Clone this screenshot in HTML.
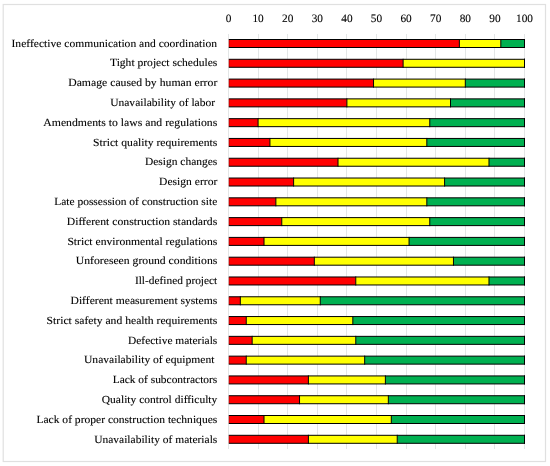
<!DOCTYPE html><html><head><meta charset="utf-8"><style>html,body{margin:0;padding:0;background:#fff;}svg{display:block;will-change:transform;}text{font-family:"Liberation Serif",serif;fill:#000;stroke:#000;stroke-width:0.1px;text-rendering:geometricPrecision;}</style></head><body>
<svg width="550" height="466" viewBox="0 0 550 466">
<rect x="0" y="0" width="550" height="466" fill="#fff"/>
<rect x="3.2" y="4.5" width="542.3" height="457" fill="none" stroke="#e0e0e0" stroke-width="1.2"/>
<line x1="228.50" y1="34" x2="228.50" y2="449" stroke="#e3e6e6" stroke-width="1"/>
<line x1="258.50" y1="34" x2="258.50" y2="449" stroke="#e3e6e6" stroke-width="1"/>
<line x1="287.50" y1="34" x2="287.50" y2="449" stroke="#e3e6e6" stroke-width="1"/>
<line x1="317.50" y1="34" x2="317.50" y2="449" stroke="#e3e6e6" stroke-width="1"/>
<line x1="346.50" y1="34" x2="346.50" y2="449" stroke="#e3e6e6" stroke-width="1"/>
<line x1="376.50" y1="34" x2="376.50" y2="449" stroke="#e3e6e6" stroke-width="1"/>
<line x1="406.50" y1="34" x2="406.50" y2="449" stroke="#e3e6e6" stroke-width="1"/>
<line x1="435.50" y1="34" x2="435.50" y2="449" stroke="#e3e6e6" stroke-width="1"/>
<line x1="465.50" y1="34" x2="465.50" y2="449" stroke="#e3e6e6" stroke-width="1"/>
<line x1="494.50" y1="34" x2="494.50" y2="449" stroke="#e3e6e6" stroke-width="1"/>
<line x1="524.50" y1="34" x2="524.50" y2="449" stroke="#e3e6e6" stroke-width="1"/>
<text x="228.50" y="21.8" font-size="11.3" text-anchor="middle">0</text>
<text x="258.10" y="21.8" font-size="11.3" text-anchor="middle">10</text>
<text x="287.70" y="21.8" font-size="11.3" text-anchor="middle">20</text>
<text x="317.30" y="21.8" font-size="11.3" text-anchor="middle">30</text>
<text x="346.90" y="21.8" font-size="11.3" text-anchor="middle">40</text>
<text x="376.50" y="21.8" font-size="11.3" text-anchor="middle">50</text>
<text x="406.10" y="21.8" font-size="11.3" text-anchor="middle">60</text>
<text x="435.70" y="21.8" font-size="11.3" text-anchor="middle">70</text>
<text x="465.30" y="21.8" font-size="11.3" text-anchor="middle">80</text>
<text x="494.90" y="21.8" font-size="11.3" text-anchor="middle">90</text>
<text x="524.50" y="21.8" font-size="11.3" text-anchor="middle">100</text>
<rect x="228.80" y="39.50" width="230.58" height="8.00" fill="#ff0000"/>
<rect x="459.38" y="39.50" width="41.44" height="8.00" fill="#ffff00"/>
<rect x="500.82" y="39.50" width="23.68" height="8.00" fill="#00b050"/>
<path d="M228.80 39.50H525.00M228.80 47.50H525.00M459.38 39.00V48.00M500.82 39.00V48.00M524.50 39.00V48.00" stroke="#000" stroke-width="1" fill="none"/>
<path d="M229.10 40.00V47.00" stroke="#000" stroke-opacity="0.4" stroke-width="0.6" fill="none"/>
<text x="11.50" y="46.70" font-size="11.0" textLength="205.60" lengthAdjust="spacingAndGlyphs">Ineffective communication and coordination</text>
<rect x="228.80" y="59.29" width="174.34" height="8.00" fill="#ff0000"/>
<rect x="403.14" y="59.29" width="121.36" height="8.00" fill="#ffff00"/>
<path d="M228.80 59.29H525.00M228.80 67.29H525.00M403.14 58.79V67.79M524.50 58.79V67.79M524.50 58.79V67.79" stroke="#000" stroke-width="1" fill="none"/>
<path d="M229.10 59.79V66.79" stroke="#000" stroke-opacity="0.4" stroke-width="0.6" fill="none"/>
<text x="110.00" y="66.49" font-size="11.0" textLength="107.30" lengthAdjust="spacingAndGlyphs">Tight project schedules</text>
<rect x="228.80" y="79.08" width="144.74" height="8.00" fill="#ff0000"/>
<rect x="373.54" y="79.08" width="91.76" height="8.00" fill="#ffff00"/>
<rect x="465.30" y="79.08" width="59.20" height="8.00" fill="#00b050"/>
<path d="M228.80 79.08H525.00M228.80 87.08H525.00M373.54 78.58V87.58M465.30 78.58V87.58M524.50 78.58V87.58" stroke="#000" stroke-width="1" fill="none"/>
<path d="M229.10 79.58V86.58" stroke="#000" stroke-opacity="0.4" stroke-width="0.6" fill="none"/>
<text x="68.20" y="86.28" font-size="11.0" textLength="149.10" lengthAdjust="spacingAndGlyphs">Damage caused by human error</text>
<rect x="228.80" y="98.87" width="118.10" height="8.00" fill="#ff0000"/>
<rect x="346.90" y="98.87" width="103.60" height="8.00" fill="#ffff00"/>
<rect x="450.50" y="98.87" width="74.00" height="8.00" fill="#00b050"/>
<path d="M228.80 98.87H525.00M228.80 106.87H525.00M346.90 98.37V107.37M450.50 98.37V107.37M524.50 98.37V107.37" stroke="#000" stroke-width="1" fill="none"/>
<path d="M229.10 99.37V106.37" stroke="#000" stroke-opacity="0.4" stroke-width="0.6" fill="none"/>
<text x="110.20" y="106.07" font-size="11.0" textLength="104.90" lengthAdjust="spacingAndGlyphs">Unavailability of labor</text>
<rect x="228.80" y="118.66" width="29.30" height="8.00" fill="#ff0000"/>
<rect x="258.10" y="118.66" width="171.68" height="8.00" fill="#ffff00"/>
<rect x="429.78" y="118.66" width="94.72" height="8.00" fill="#00b050"/>
<path d="M228.80 118.66H525.00M228.80 126.66H525.00M258.10 118.16V127.16M429.78 118.16V127.16M524.50 118.16V127.16" stroke="#000" stroke-width="1" fill="none"/>
<path d="M229.10 119.16V126.16" stroke="#000" stroke-opacity="0.4" stroke-width="0.6" fill="none"/>
<text x="43.30" y="125.86" font-size="11.0" textLength="174.00" lengthAdjust="spacingAndGlyphs">Amendments to laws and regulations</text>
<rect x="228.80" y="138.45" width="41.14" height="8.00" fill="#ff0000"/>
<rect x="269.94" y="138.45" width="156.88" height="8.00" fill="#ffff00"/>
<rect x="426.82" y="138.45" width="97.68" height="8.00" fill="#00b050"/>
<path d="M228.80 138.45H525.00M228.80 146.45H525.00M269.94 137.95V146.95M426.82 137.95V146.95M524.50 137.95V146.95" stroke="#000" stroke-width="1" fill="none"/>
<path d="M229.10 138.95V145.95" stroke="#000" stroke-opacity="0.4" stroke-width="0.6" fill="none"/>
<text x="93.10" y="145.65" font-size="11.0" textLength="124.20" lengthAdjust="spacingAndGlyphs">Strict quality requirements</text>
<rect x="228.80" y="158.24" width="109.22" height="8.00" fill="#ff0000"/>
<rect x="338.02" y="158.24" width="150.96" height="8.00" fill="#ffff00"/>
<rect x="488.98" y="158.24" width="35.52" height="8.00" fill="#00b050"/>
<path d="M228.80 158.24H525.00M228.80 166.24H525.00M338.02 157.74V166.74M488.98 157.74V166.74M524.50 157.74V166.74" stroke="#000" stroke-width="1" fill="none"/>
<path d="M229.10 158.74V165.74" stroke="#000" stroke-opacity="0.4" stroke-width="0.6" fill="none"/>
<text x="144.90" y="165.44" font-size="11.0" textLength="72.40" lengthAdjust="spacingAndGlyphs">Design changes</text>
<rect x="228.80" y="178.03" width="64.82" height="8.00" fill="#ff0000"/>
<rect x="293.62" y="178.03" width="150.96" height="8.00" fill="#ffff00"/>
<rect x="444.58" y="178.03" width="79.92" height="8.00" fill="#00b050"/>
<path d="M228.80 178.03H525.00M228.80 186.03H525.00M293.62 177.53V186.53M444.58 177.53V186.53M524.50 177.53V186.53" stroke="#000" stroke-width="1" fill="none"/>
<path d="M229.10 178.53V185.53" stroke="#000" stroke-opacity="0.4" stroke-width="0.6" fill="none"/>
<text x="159.10" y="185.23" font-size="11.0" textLength="58.20" lengthAdjust="spacingAndGlyphs">Design error</text>
<rect x="228.80" y="197.82" width="47.06" height="8.00" fill="#ff0000"/>
<rect x="275.86" y="197.82" width="150.96" height="8.00" fill="#ffff00"/>
<rect x="426.82" y="197.82" width="97.68" height="8.00" fill="#00b050"/>
<path d="M228.80 197.82H525.00M228.80 205.82H525.00M275.86 197.32V206.32M426.82 197.32V206.32M524.50 197.32V206.32" stroke="#000" stroke-width="1" fill="none"/>
<path d="M229.10 198.32V205.32" stroke="#000" stroke-opacity="0.4" stroke-width="0.6" fill="none"/>
<text x="54.20" y="205.02" font-size="11.0" textLength="163.10" lengthAdjust="spacingAndGlyphs">Late possession of construction site</text>
<rect x="228.80" y="217.61" width="52.98" height="8.00" fill="#ff0000"/>
<rect x="281.78" y="217.61" width="148.00" height="8.00" fill="#ffff00"/>
<rect x="429.78" y="217.61" width="94.72" height="8.00" fill="#00b050"/>
<path d="M228.80 217.61H525.00M228.80 225.61H525.00M281.78 217.11V226.11M429.78 217.11V226.11M524.50 217.11V226.11" stroke="#000" stroke-width="1" fill="none"/>
<path d="M229.10 218.11V225.11" stroke="#000" stroke-opacity="0.4" stroke-width="0.6" fill="none"/>
<text x="66.70" y="224.81" font-size="11.0" textLength="150.60" lengthAdjust="spacingAndGlyphs">Different construction standards</text>
<rect x="228.80" y="237.40" width="35.22" height="8.00" fill="#ff0000"/>
<rect x="264.02" y="237.40" width="145.04" height="8.00" fill="#ffff00"/>
<rect x="409.06" y="237.40" width="115.44" height="8.00" fill="#00b050"/>
<path d="M228.80 237.40H525.00M228.80 245.40H525.00M264.02 236.90V245.90M409.06 236.90V245.90M524.50 236.90V245.90" stroke="#000" stroke-width="1" fill="none"/>
<path d="M229.10 237.90V244.90" stroke="#000" stroke-opacity="0.4" stroke-width="0.6" fill="none"/>
<text x="67.40" y="244.60" font-size="11.0" textLength="149.90" lengthAdjust="spacingAndGlyphs">Strict environmental regulations</text>
<rect x="228.80" y="257.19" width="85.54" height="8.00" fill="#ff0000"/>
<rect x="314.34" y="257.19" width="139.12" height="8.00" fill="#ffff00"/>
<rect x="453.46" y="257.19" width="71.04" height="8.00" fill="#00b050"/>
<path d="M228.80 257.19H525.00M228.80 265.19H525.00M314.34 256.69V265.69M453.46 256.69V265.69M524.50 256.69V265.69" stroke="#000" stroke-width="1" fill="none"/>
<path d="M229.10 257.69V264.69" stroke="#000" stroke-opacity="0.4" stroke-width="0.6" fill="none"/>
<text x="75.80" y="264.39" font-size="11.0" textLength="141.50" lengthAdjust="spacingAndGlyphs">Unforeseen ground conditions</text>
<rect x="228.80" y="276.98" width="126.98" height="8.00" fill="#ff0000"/>
<rect x="355.78" y="276.98" width="133.20" height="8.00" fill="#ffff00"/>
<rect x="488.98" y="276.98" width="35.52" height="8.00" fill="#00b050"/>
<path d="M228.80 276.98H525.00M228.80 284.98H525.00M355.78 276.48V285.48M488.98 276.48V285.48M524.50 276.48V285.48" stroke="#000" stroke-width="1" fill="none"/>
<path d="M229.10 277.48V284.48" stroke="#000" stroke-opacity="0.4" stroke-width="0.6" fill="none"/>
<text x="134.90" y="284.18" font-size="11.0" textLength="82.40" lengthAdjust="spacingAndGlyphs">Ill-defined project</text>
<rect x="228.80" y="296.77" width="11.54" height="8.00" fill="#ff0000"/>
<rect x="240.34" y="296.77" width="79.92" height="8.00" fill="#ffff00"/>
<rect x="320.26" y="296.77" width="204.24" height="8.00" fill="#00b050"/>
<path d="M228.80 296.77H525.00M228.80 304.77H525.00M240.34 296.27V305.27M320.26 296.27V305.27M524.50 296.27V305.27" stroke="#000" stroke-width="1" fill="none"/>
<path d="M229.10 297.27V304.27" stroke="#000" stroke-opacity="0.4" stroke-width="0.6" fill="none"/>
<text x="70.50" y="303.97" font-size="11.0" textLength="146.80" lengthAdjust="spacingAndGlyphs">Different measurement systems</text>
<rect x="228.80" y="316.56" width="17.46" height="8.00" fill="#ff0000"/>
<rect x="246.26" y="316.56" width="106.56" height="8.00" fill="#ffff00"/>
<rect x="352.82" y="316.56" width="171.68" height="8.00" fill="#00b050"/>
<path d="M228.80 316.56H525.00M228.80 324.56H525.00M246.26 316.06V325.06M352.82 316.06V325.06M524.50 316.06V325.06" stroke="#000" stroke-width="1" fill="none"/>
<path d="M229.10 317.06V324.06" stroke="#000" stroke-opacity="0.4" stroke-width="0.6" fill="none"/>
<text x="46.60" y="323.76" font-size="11.0" textLength="170.70" lengthAdjust="spacingAndGlyphs">Strict safety and health requirements</text>
<rect x="228.80" y="336.35" width="23.38" height="8.00" fill="#ff0000"/>
<rect x="252.18" y="336.35" width="103.60" height="8.00" fill="#ffff00"/>
<rect x="355.78" y="336.35" width="168.72" height="8.00" fill="#00b050"/>
<path d="M228.80 336.35H525.00M228.80 344.35H525.00M252.18 335.85V344.85M355.78 335.85V344.85M524.50 335.85V344.85" stroke="#000" stroke-width="1" fill="none"/>
<path d="M229.10 336.85V343.85" stroke="#000" stroke-opacity="0.4" stroke-width="0.6" fill="none"/>
<text x="128.00" y="343.55" font-size="11.0" textLength="89.30" lengthAdjust="spacingAndGlyphs">Defective materials</text>
<rect x="228.80" y="356.14" width="17.46" height="8.00" fill="#ff0000"/>
<rect x="246.26" y="356.14" width="118.40" height="8.00" fill="#ffff00"/>
<rect x="364.66" y="356.14" width="159.84" height="8.00" fill="#00b050"/>
<path d="M228.80 356.14H525.00M228.80 364.14H525.00M246.26 355.64V364.64M364.66 355.64V364.64M524.50 355.64V364.64" stroke="#000" stroke-width="1" fill="none"/>
<path d="M229.10 356.64V363.64" stroke="#000" stroke-opacity="0.4" stroke-width="0.6" fill="none"/>
<text x="84.00" y="363.34" font-size="11.0" textLength="130.40" lengthAdjust="spacingAndGlyphs">Unavailability of equipment</text>
<rect x="228.80" y="375.93" width="79.62" height="8.00" fill="#ff0000"/>
<rect x="308.42" y="375.93" width="76.96" height="8.00" fill="#ffff00"/>
<rect x="385.38" y="375.93" width="139.12" height="8.00" fill="#00b050"/>
<path d="M228.80 375.93H525.00M228.80 383.93H525.00M308.42 375.43V384.43M385.38 375.43V384.43M524.50 375.43V384.43" stroke="#000" stroke-width="1" fill="none"/>
<path d="M229.10 376.43V383.43" stroke="#000" stroke-opacity="0.4" stroke-width="0.6" fill="none"/>
<text x="112.70" y="383.13" font-size="11.0" textLength="104.60" lengthAdjust="spacingAndGlyphs">Lack of subcontractors</text>
<rect x="228.80" y="395.72" width="70.74" height="8.00" fill="#ff0000"/>
<rect x="299.54" y="395.72" width="88.80" height="8.00" fill="#ffff00"/>
<rect x="388.34" y="395.72" width="136.16" height="8.00" fill="#00b050"/>
<path d="M228.80 395.72H525.00M228.80 403.72H525.00M299.54 395.22V404.22M388.34 395.22V404.22M524.50 395.22V404.22" stroke="#000" stroke-width="1" fill="none"/>
<path d="M229.10 396.22V403.22" stroke="#000" stroke-opacity="0.4" stroke-width="0.6" fill="none"/>
<text x="101.80" y="402.92" font-size="11.0" textLength="115.50" lengthAdjust="spacingAndGlyphs">Quality control difficulty</text>
<rect x="228.80" y="415.51" width="35.22" height="8.00" fill="#ff0000"/>
<rect x="264.02" y="415.51" width="127.28" height="8.00" fill="#ffff00"/>
<rect x="391.30" y="415.51" width="133.20" height="8.00" fill="#00b050"/>
<path d="M228.80 415.51H525.00M228.80 423.51H525.00M264.02 415.01V424.01M391.30 415.01V424.01M524.50 415.01V424.01" stroke="#000" stroke-width="1" fill="none"/>
<path d="M229.10 416.01V423.01" stroke="#000" stroke-opacity="0.4" stroke-width="0.6" fill="none"/>
<text x="36.40" y="422.71" font-size="11.0" textLength="180.90" lengthAdjust="spacingAndGlyphs">Lack of proper construction techniques</text>
<rect x="228.80" y="435.30" width="79.62" height="8.00" fill="#ff0000"/>
<rect x="308.42" y="435.30" width="88.80" height="8.00" fill="#ffff00"/>
<rect x="397.22" y="435.30" width="127.28" height="8.00" fill="#00b050"/>
<path d="M228.80 435.30H525.00M228.80 443.30H525.00M308.42 434.80V443.80M397.22 434.80V443.80M524.50 434.80V443.80" stroke="#000" stroke-width="1" fill="none"/>
<path d="M229.10 435.80V442.80" stroke="#000" stroke-opacity="0.4" stroke-width="0.6" fill="none"/>
<text x="94.20" y="442.50" font-size="11.0" textLength="123.10" lengthAdjust="spacingAndGlyphs">Unavailability of materials</text>
</svg></body></html>
